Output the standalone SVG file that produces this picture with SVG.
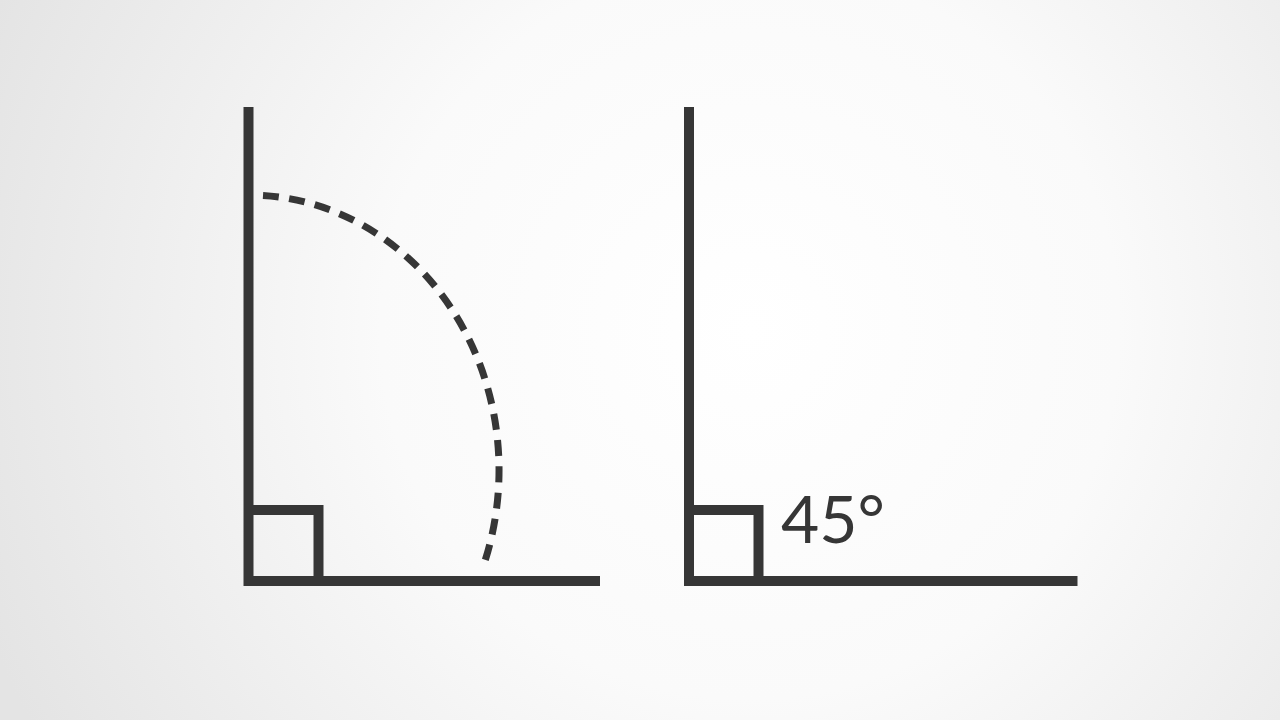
<svg xmlns="http://www.w3.org/2000/svg" width="1280" height="720" viewBox="0 0 1280 720">
  <defs>
    <radialGradient id="bg" cx="750" cy="330" r="820" gradientUnits="userSpaceOnUse">
      <stop offset="0" stop-color="#ffffff"/>
      <stop offset="0.45" stop-color="#fafafa"/>
      <stop offset="1" stop-color="#e4e4e4"/>
    </radialGradient>
    <style>
      .ln { fill: none; stroke: #363636; stroke-width: 10; stroke-linecap: butt; stroke-linejoin: miter; }
      .dash { fill: none; stroke: #363636; stroke-width: 7; stroke-dasharray: 16 10.3; }
      .lbl { font-family: Lato, "Open Sans", sans-serif; font-size: 66px; fill: #363636; }
    </style>
  </defs>
  <rect width="1280" height="720" fill="url(#bg)"/>
  <g id="angle-left">
    <polyline class="ln" points="248.5,107 248.5,581 600,581"/>
    <polyline class="ln" points="248.5,510 318.5,510 318.5,581"/>
  </g>
  <g id="angle-right">
    <polyline class="ln" points="689,107 689,581 1077.5,581"/>
    <polyline class="ln" points="689,510 758.5,510 758.5,581"/>
    <text class="lbl" x="781" y="543">45°</text>
  </g>
  <g id="connectors">
    <path class="dash" d="M 263 195.5 A 250 275 0 0 1 484 564"/>
  </g>
</svg>
